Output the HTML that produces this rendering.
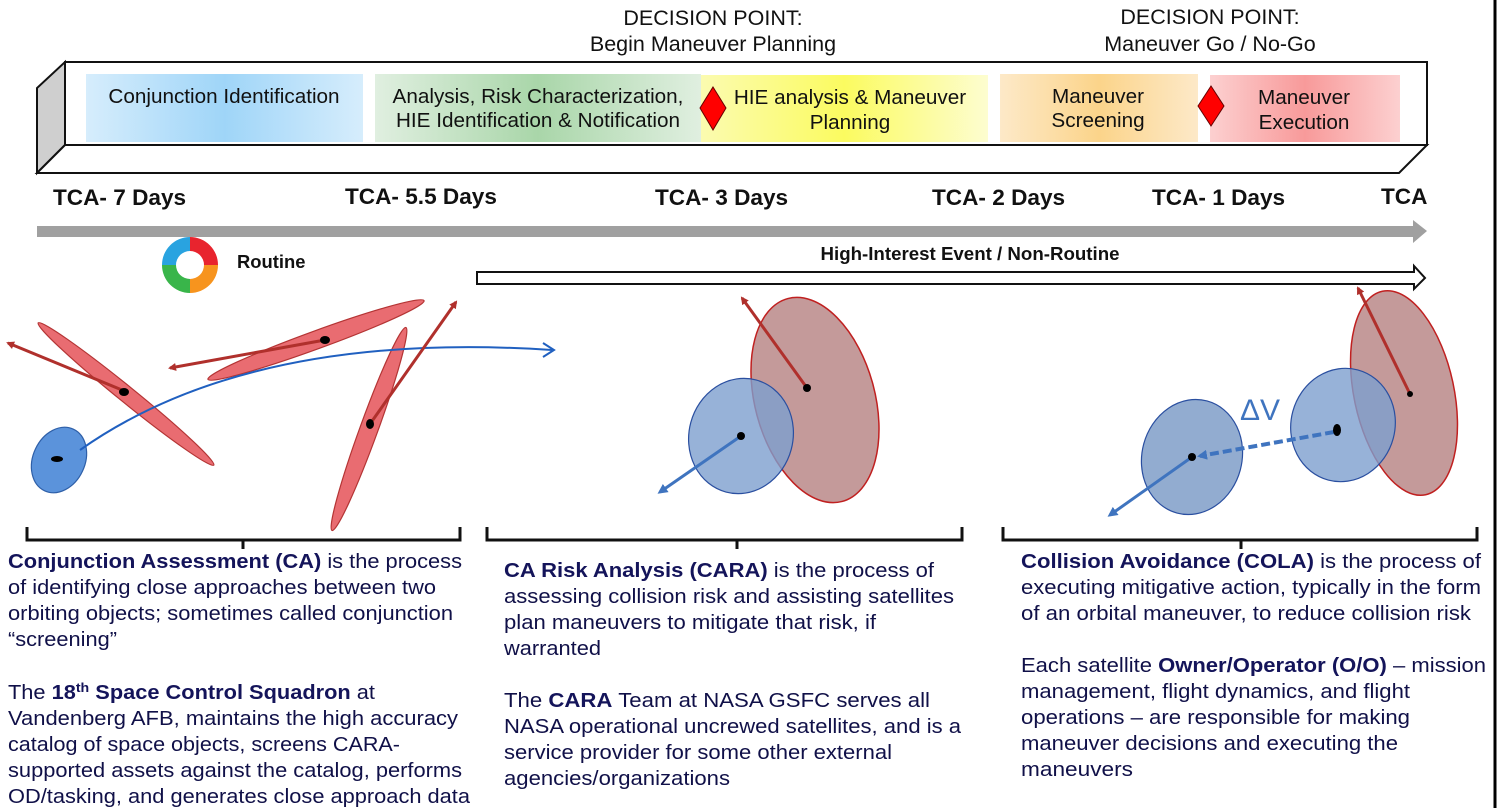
<!DOCTYPE html>
<html><head><meta charset="utf-8"><style>
html,body{margin:0;padding:0;background:#fff;}
svg{display:block;font-family:"Liberation Sans",Arial,sans-serif;}
.b{font-weight:bold;fill:#14145a;}
.t{fill:#101048;font-size:20px;}
</style></head><body>
<svg width="1500" height="808" viewBox="0 0 1500 808" xmlns="http://www.w3.org/2000/svg">
<defs>
<linearGradient id="gBlue" x1="0" x2="1"><stop offset="0" stop-color="#d6edfc"/><stop offset="0.5" stop-color="#9fd5f8"/><stop offset="1" stop-color="#d6edfc"/></linearGradient>
<linearGradient id="gGreen" x1="0" x2="1"><stop offset="0" stop-color="#e0efe0"/><stop offset="0.5" stop-color="#a9d6a9"/><stop offset="1" stop-color="#e0efe0"/></linearGradient>
<linearGradient id="gYel" x1="0" x2="1"><stop offset="0" stop-color="#fbfbb0"/><stop offset="0.5" stop-color="#fbfb60"/><stop offset="1" stop-color="#fdfdd0"/></linearGradient>
<linearGradient id="gOr" x1="0" x2="1"><stop offset="0" stop-color="#fde9c8"/><stop offset="0.5" stop-color="#fbd48a"/><stop offset="1" stop-color="#fde9c8"/></linearGradient>
<linearGradient id="gRed" x1="0" x2="1"><stop offset="0" stop-color="#fcd0d0"/><stop offset="0.5" stop-color="#f89a9a"/><stop offset="1" stop-color="#fcd0d0"/></linearGradient>
<marker id="ar" markerWidth="8" markerHeight="8" refX="6" refY="4" orient="auto" markerUnits="userSpaceOnUse"><path d="M0,0 L8,4 L0,8 z" fill="#b0302c"/></marker>
<marker id="ab" markerWidth="10" markerHeight="10" refX="7" refY="5" orient="auto" markerUnits="userSpaceOnUse"><path d="M0,0 L10,5 L0,10 z" fill="#3f74bf"/></marker>
</defs>

<line x1="1495" y1="0" x2="1495" y2="808" stroke="#000" stroke-width="3"/>

<g font-size="21.5" fill="#111" text-anchor="middle">
<text x="713" y="25">DECISION POINT:</text>
<text x="713" y="51">Begin Maneuver Planning</text>
<text x="1210" y="24">DECISION POINT:</text>
<text x="1210" y="51">Maneuver Go / No-Go</text>
</g>

<polygon points="65,62 65,145 37,173 37,88" fill="#cfcfcf" stroke="#111" stroke-width="2"/>
<polygon points="65,145 1427,145 1399,173 37,173" fill="#fff" stroke="#111" stroke-width="2"/>
<rect x="65" y="62" width="1362" height="83" fill="#fff" stroke="#111" stroke-width="2"/>
<rect x="86" y="74" width="277" height="68" fill="url(#gBlue)"/>
<rect x="375" y="74" width="326" height="68" fill="url(#gGreen)"/>
<rect x="701" y="75" width="287" height="67" fill="url(#gYel)"/>
<rect x="1000" y="74" width="198" height="68" fill="url(#gOr)"/>
<rect x="1210" y="75" width="190" height="67" fill="url(#gRed)"/>
<polygon points="713,87 726,108 713,130 700,108" fill="#f00" stroke="#600" stroke-width="1"/>
<polygon points="1211,86 1224,106 1211,126 1198,106" fill="#f00" stroke="#600" stroke-width="1"/>
<g font-size="20.7" fill="#111" text-anchor="middle">
<text x="224" y="103">Conjunction Identification</text>
<text x="538" y="103">Analysis, Risk Characterization,</text>
<text x="538" y="127">HIE Identification &amp; Notification</text>
<text x="850" y="104">HIE analysis &amp; Maneuver</text>
<text x="850" y="129">Planning</text>
<text x="1098" y="103">Maneuver</text>
<text x="1098" y="127">Screening</text>
<text x="1304" y="104">Maneuver</text>
<text x="1304" y="129">Execution</text>
</g>

<g font-size="22.6" font-weight="bold" fill="#111">
<text x="53" y="205">TCA- 7 Days</text>
<text x="345" y="204">TCA- 5.5 Days</text>
<text x="655" y="205">TCA- 3 Days</text>
<text x="932" y="205">TCA- 2 Days</text>
<text x="1152" y="205">TCA- 1 Days</text>
<text x="1381" y="204">TCA</text>
</g>

<polygon points="37,226 1413,226 1413,220 1427,231 1413,243 1413,237 37,237" fill="#a0a0a0"/>
<polygon points="477,272 1414,272 1414,266 1425,278 1414,289 1414,284 477,284" fill="#fff" stroke="#111" stroke-width="2"/>
<text x="970" y="260" font-size="18.7" font-weight="bold" fill="#111" text-anchor="middle">High-Interest Event / Non-Routine</text>

<g transform="translate(190,265)">
<path d="M0,-28 A28,28 0 0 1 28,0 L14,0 A14,14 0 0 0 0,-14 z" fill="#e8242e"/>
<path d="M28,0 A28,28 0 0 1 0,28 L0,14 A14,14 0 0 0 14,0 z" fill="#f7941e"/>
<path d="M0,28 A28,28 0 0 1 -28,0 L-14,0 A14,14 0 0 0 0,14 z" fill="#39b54a"/>
<path d="M-28,0 A28,28 0 0 1 0,-28 L0,-14 A14,14 0 0 0 -14,0 z" fill="#29a3e0"/>
</g>
<text x="237" y="268" font-size="18.4" font-weight="bold" fill="#111">Routine</text>

<g fill="#e8656a" stroke="#b02a2a" stroke-width="1.2" opacity="0.95">
<ellipse cx="126" cy="394" rx="113" ry="8" transform="rotate(39 126 394)"/>
<ellipse cx="316" cy="340" rx="115" ry="9" transform="rotate(-20 316 340)"/>
<ellipse cx="369" cy="429" rx="108" ry="9" transform="rotate(-70 369 429)"/>
</g>
<ellipse cx="59" cy="460" rx="26" ry="34" transform="rotate(25 59 460)" fill="#5b93db" stroke="#2e5fa8" stroke-width="1.2"/>
<path d="M80,450 Q250,330 552,350" fill="none" stroke="#2060c0" stroke-width="2"/>
<path d="M543,343 L554,350 L543,357" fill="none" stroke="#2060c0" stroke-width="2"/>
<g stroke="#b0302c" stroke-width="3" marker-end="url(#ar)">
<line x1="122" y1="390" x2="8" y2="343"/>
<line x1="325" y1="340" x2="170" y2="368"/>
<line x1="370" y1="424" x2="456" y2="302"/>
</g>
<g fill="#000">
<ellipse cx="124" cy="392" rx="5" ry="4"/>
<ellipse cx="325" cy="340" rx="5" ry="4"/>
<ellipse cx="370" cy="424" rx="4" ry="5"/>
<ellipse cx="57" cy="459" rx="6" ry="3"/>
</g>

<ellipse cx="815" cy="400" rx="60" ry="105" transform="rotate(-15 815 400)" fill="#c49a9a" stroke="#c02020" stroke-width="1.5"/>
<ellipse cx="741" cy="436" rx="52" ry="58" transform="rotate(15 741 436)" fill="#7d9fce" stroke="#2a4fa0" stroke-width="1.2" fill-opacity="0.8"/>
<line x1="807" y1="388" x2="742" y2="298" stroke="#b0302c" stroke-width="3" marker-end="url(#ar)"/>
<line x1="741" y1="436" x2="660" y2="492" stroke="#3f74bf" stroke-width="3" marker-end="url(#ab)"/>
<circle cx="807" cy="388" r="4" fill="#000"/>
<circle cx="741" cy="436" r="4" fill="#000"/>

<ellipse cx="1404" cy="393" rx="50" ry="104" transform="rotate(-12 1404 393)" fill="#c49a9a" stroke="#c02020" stroke-width="1.5"/>
<ellipse cx="1343" cy="425" rx="52" ry="57" transform="rotate(15 1343 425)" fill="#7d9fce" stroke="#2a4fa0" stroke-width="1.2" fill-opacity="0.8"/>
<ellipse cx="1192" cy="457" rx="50" ry="58" transform="rotate(15 1192 457)" fill="#92acd0" stroke="#2a4fa0" stroke-width="1.2"/>
<line x1="1410" y1="394" x2="1358" y2="288" stroke="#b0302c" stroke-width="3" marker-end="url(#ar)"/>
<line x1="1334" y1="432" x2="1200" y2="456" stroke="#3f74bf" stroke-width="4" stroke-dasharray="9,4" marker-end="url(#ab)"/>
<line x1="1192" y1="457" x2="1110" y2="515" stroke="#3f74bf" stroke-width="3" marker-end="url(#ab)"/>
<ellipse cx="1337" cy="430" rx="4" ry="6" fill="#000"/>
<circle cx="1192" cy="457" r="4" fill="#000"/>
<circle cx="1410" cy="394" r="3" fill="#000"/>
<text x="1240" y="420" font-size="30" fill="#3f74bf">ΔV</text>

<g fill="none" stroke="#111" stroke-width="3">
<path d="M27,527 L27,540 L460,540 L460,527"/>
<line x1="243" y1="540" x2="243" y2="549"/>
<path d="M487,527 L487,540 L962,540 L962,527"/>
<line x1="737" y1="540" x2="737" y2="549"/>
<path d="M1003,527 L1003,540 L1477,540 L1477,527"/>
<line x1="1241" y1="540" x2="1241" y2="549"/>
</g>

<g class="t">
<text x="8" y="568" textLength="454" lengthAdjust="spacingAndGlyphs"><tspan class="b">Conjunction Assessment (CA)</tspan> is the process</text>
<text x="8" y="594" textLength="428" lengthAdjust="spacingAndGlyphs">of identifying close approaches between two</text>
<text x="8" y="620" textLength="445" lengthAdjust="spacingAndGlyphs">orbiting objects; sometimes called conjunction</text>
<text x="8" y="646" textLength="109" lengthAdjust="spacingAndGlyphs">“screening”</text>
<text x="8" y="699" textLength="367" lengthAdjust="spacingAndGlyphs">The <tspan class="b">18<tspan font-size="13" dy="-7">th</tspan><tspan dy="7"> Space Control Squadron</tspan></tspan> at</text>
<text x="8" y="725" textLength="450" lengthAdjust="spacingAndGlyphs">Vandenberg AFB, maintains the high accuracy</text>
<text x="8" y="751" textLength="392" lengthAdjust="spacingAndGlyphs">catalog of space objects, screens CARA-</text>
<text x="8" y="777" textLength="454" lengthAdjust="spacingAndGlyphs">supported assets against the catalog, performs</text>
<text x="8" y="803" textLength="462" lengthAdjust="spacingAndGlyphs">OD/tasking, and generates close approach data</text>
</g>

<g class="t">
<text x="504" y="577" textLength="430" lengthAdjust="spacingAndGlyphs"><tspan class="b">CA Risk Analysis (CARA)</tspan> is the process of</text>
<text x="504" y="603" textLength="450" lengthAdjust="spacingAndGlyphs">assessing collision risk and assisting satellites</text>
<text x="504" y="629" textLength="372" lengthAdjust="spacingAndGlyphs">plan maneuvers to mitigate that risk, if</text>
<text x="504" y="655" textLength="97" lengthAdjust="spacingAndGlyphs">warranted</text>
<text x="504" y="707" textLength="426" lengthAdjust="spacingAndGlyphs">The <tspan class="b">CARA</tspan> Team at NASA GSFC serves all</text>
<text x="504" y="733" textLength="457" lengthAdjust="spacingAndGlyphs">NASA operational uncrewed satellites, and is a</text>
<text x="504" y="759" textLength="388" lengthAdjust="spacingAndGlyphs">service provider for some other external</text>
<text x="504" y="785" textLength="226" lengthAdjust="spacingAndGlyphs">agencies/organizations</text>
</g>

<g class="t">
<text x="1021" y="568" textLength="460" lengthAdjust="spacingAndGlyphs"><tspan class="b">Collision Avoidance (COLA)</tspan> is the process of</text>
<text x="1021" y="594" textLength="460" lengthAdjust="spacingAndGlyphs">executing mitigative action, typically in the form</text>
<text x="1021" y="620" textLength="450" lengthAdjust="spacingAndGlyphs">of an orbital maneuver, to reduce collision risk</text>
<text x="1021" y="672" textLength="465" lengthAdjust="spacingAndGlyphs">Each satellite <tspan class="b">Owner/Operator (O/O)</tspan> – mission</text>
<text x="1021" y="698" textLength="389" lengthAdjust="spacingAndGlyphs">management, flight dynamics, and flight</text>
<text x="1021" y="724" textLength="389" lengthAdjust="spacingAndGlyphs">operations – are responsible for making</text>
<text x="1021" y="750" textLength="377" lengthAdjust="spacingAndGlyphs">maneuver decisions and executing the</text>
<text x="1021" y="776" textLength="112" lengthAdjust="spacingAndGlyphs">maneuvers</text>
</g>
</svg>
</body></html>
